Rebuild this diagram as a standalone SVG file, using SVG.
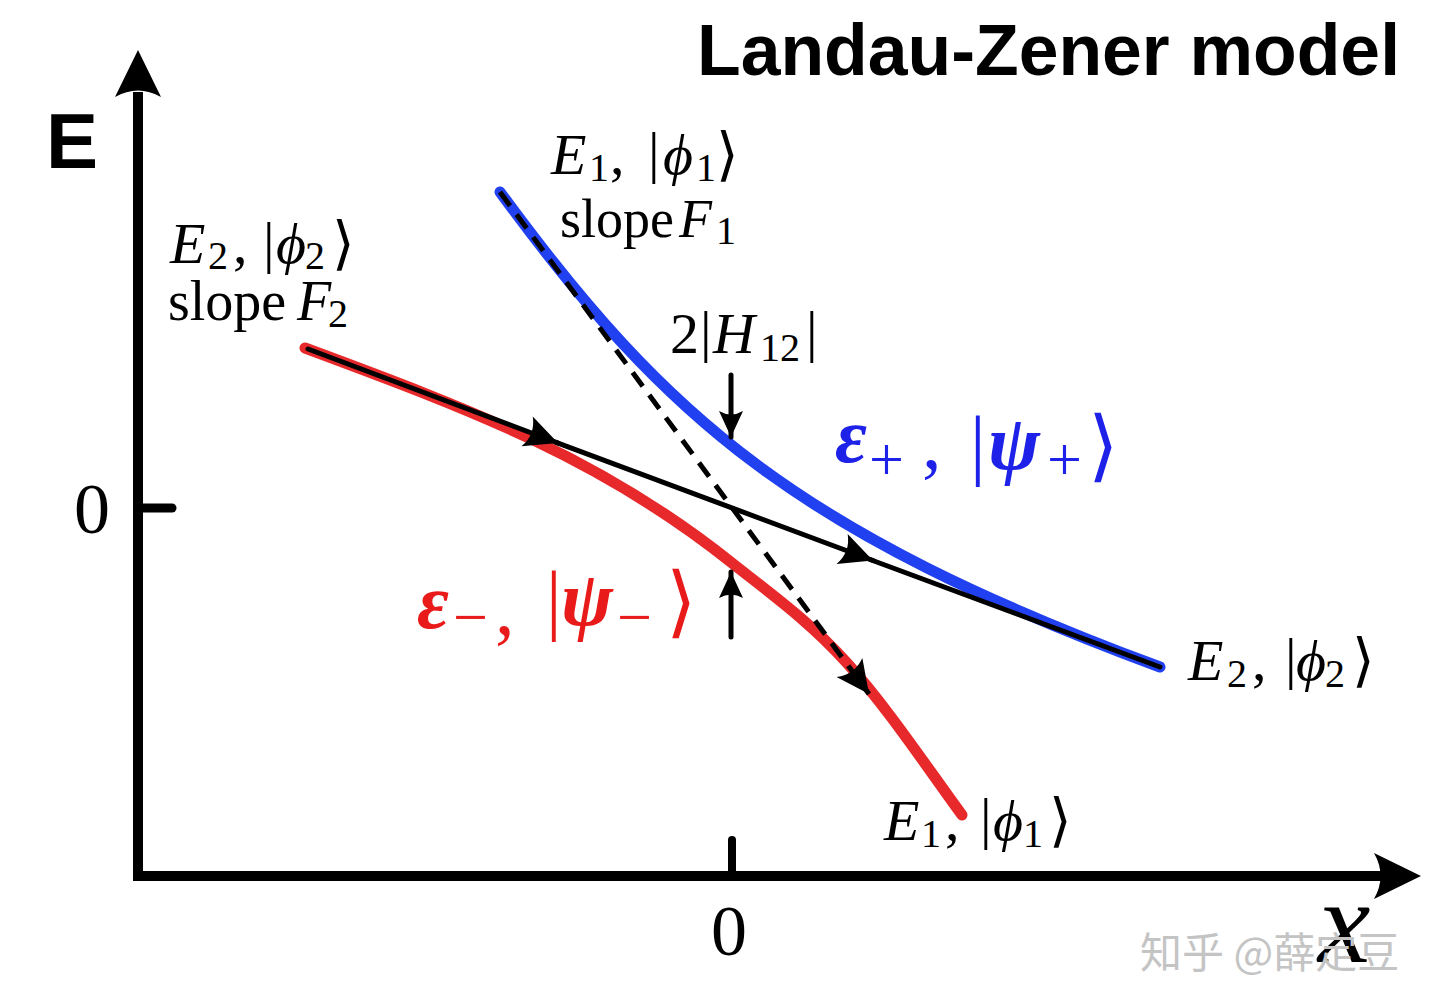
<svg xmlns="http://www.w3.org/2000/svg" width="1440" height="1008" viewBox="0 0 1440 1008">
<style>
.m{font-family:"Liberation Serif","DejaVu Serif",serif;fill:#000}
.i{font-style:italic}
.s{font-size:40px}
.b{font-style:italic;font-weight:bold}
.sans{font-family:"Liberation Sans",Arial,sans-serif;font-weight:bold;fill:#000}
.ax{stroke:#000;stroke-width:10;fill:none}
.blk{stroke:#000;stroke-width:5;fill:none;stroke-linecap:round}
</style>
<defs>
<marker id="ah" markerUnits="userSpaceOnUse" viewBox="-34 -18 36 36" markerWidth="36" markerHeight="36" refX="0" refY="0" orient="auto">
<path d="M0,0 L-33,-16 Q-24,0 -33,16 Z" fill="#000"/>
</marker>
<marker id="sa" markerUnits="userSpaceOnUse" viewBox="-28 -14 30 28" markerWidth="30" markerHeight="28" refX="0" refY="0" orient="auto">
<path d="M0,0 L-26,-12 Q-19,0 -26,12 Z" fill="#000"/>
</marker>
</defs>
<rect width="1440" height="1008" fill="#fff"/>

<g id="title"><text class="sans" x="697" y="75" font-size="72" textLength="703" lengthAdjust="spacingAndGlyphs">Landau-Zener model</text></g>

<g id="axes">
<line class="ax" x1="138" y1="92" x2="138" y2="881"/>
<path d="M138,50 L161,97 Q138,84 115,97 Z" fill="#000"/>
<line class="ax" x1="133" y1="876" x2="1385" y2="876"/>
<path d="M1421,876 L1374,899 Q1387,876 1374,853 Z" fill="#000"/>
<line x1="138" y1="508" x2="172" y2="508" stroke="#000" stroke-width="9" stroke-linecap="round"/>
<line x1="732" y1="871" x2="732" y2="840" stroke="#000" stroke-width="8" stroke-linecap="round"/>
<text class="sans" x="46" y="168" font-size="78">E</text>
<text class="m" x="74" y="533" font-size="72">0</text>
<text class="m" x="711" y="955" font-size="72">0</text>
<text class="m i" x="1318" y="962" font-size="118">x</text>
</g>

<g id="curve-minus"><path d="M305,348 C475,411 602,459 732,563 C775,597 810,622 847,663 C887,707 927,767.3 962,815" fill="none" stroke="#e8292b" stroke-width="11" stroke-linecap="round"/></g>
<g id="curve-plus"><path d="M500,192 C667,419.5 796,532 1160,667" fill="none" stroke="#2140f0" stroke-width="11" stroke-linecap="round"/></g>

<g id="connectors">
<path class="blk" d="M308,349 L558,443" marker-end="url(#ah)"/>
<path class="blk" d="M556,442.3 L873,560.5" marker-end="url(#ah)"/>
<path class="blk" d="M870,559.5 L1160,667"/>
<path d="M500,192 L869,694" fill="none" stroke="#000" stroke-width="5" stroke-dasharray="17 11" marker-end="url(#ah)"/>
<path class="blk" d="M731,375 L731,437" marker-end="url(#sa)"/>
<path class="blk" d="M731,637 L731,572" marker-end="url(#sa)"/>
</g>

<g id="label-E1-top">
<text class="m" font-size="58"><tspan class="i" x="551" y="174">E</tspan><tspan class="s" x="589" y="181">1</tspan><tspan x="610" y="174">,</tspan><tspan x="648" y="172">|</tspan><tspan class="i" x="663" y="174">ϕ</tspan><tspan class="s" x="696" y="181">1</tspan><tspan x="716" y="174">⟩</tspan></text>
<text class="m" font-size="54"><tspan x="560" y="237">slope</tspan><tspan class="i" x="679" y="237">F</tspan><tspan class="s" x="716" y="244">1</tspan></text>
</g>

<g id="label-E2-left">
<text class="m" font-size="58"><tspan class="i" x="170" y="263">E</tspan><tspan class="s" x="208" y="269">2</tspan><tspan x="233" y="263">,</tspan><tspan x="263" y="262">|</tspan><tspan class="i" x="276" y="263">ϕ</tspan><tspan class="s" x="305" y="269">2</tspan><tspan x="332" y="263">⟩</tspan></text>
<text class="m" font-size="56"><tspan x="168" y="320">slope</tspan><tspan class="i" x="297" y="320">F</tspan><tspan class="s" x="328" y="327">2</tspan></text>
</g>

<g id="label-H12">
<text class="m" font-size="58"><tspan x="670" y="353">2</tspan><tspan x="700" y="351">|</tspan><tspan class="i" x="713" y="353">H</tspan><tspan class="s" x="760" y="361">12</tspan><tspan x="806" y="351">|</tspan></text>
</g>

<g id="label-E2-right">
<text class="m" font-size="58"><tspan class="i" x="1188" y="680">E</tspan><tspan class="s" x="1227" y="687">2</tspan><tspan x="1252" y="680">,</tspan><tspan x="1285" y="678">|</tspan><tspan class="i" x="1296" y="680">ϕ</tspan><tspan class="s" x="1325" y="687">2</tspan><tspan x="1352" y="680">⟩</tspan></text>
</g>

<g id="label-E1-bottom">
<text class="m" font-size="58"><tspan class="i" x="884" y="840">E</tspan><tspan class="s" x="921" y="847">1</tspan><tspan x="945" y="840">,</tspan><tspan x="980" y="838">|</tspan><tspan class="i" x="993" y="840">ϕ</tspan><tspan class="s" x="1023" y="847">1</tspan><tspan x="1049" y="840">⟩</tspan></text>
</g>

<g id="label-eps-plus">
<text class="m" font-size="78" style="fill:#1e22e8"><tspan class="b" x="835" y="462">ε</tspan><tspan font-size="62" x="869" y="480">+</tspan><tspan x="922" y="468">,</tspan><tspan x="970" y="470">|</tspan><tspan class="b" x="988" y="469">ψ</tspan><tspan font-size="62" x="1047" y="480">+</tspan><tspan x="1088" y="472">⟩</tspan></text>
</g>

<g id="label-eps-minus">
<text class="m" font-size="78" style="fill:#e81a1a"><tspan class="b" x="417" y="628">ε</tspan><tspan font-size="62" x="453" y="638">−</tspan><tspan x="495" y="634">,</tspan><tspan x="546" y="625">|</tspan><tspan class="b" x="561" y="625">ψ</tspan><tspan font-size="62" x="617" y="638">−</tspan><tspan x="666" y="628">⟩</tspan></text>
</g>

<g id="watermark"><text x="1140" y="968" font-family="'Noto Sans CJK SC',sans-serif" font-size="42" fill="#c4c4c4">知乎 @薛定豆</text></g>
</svg>
